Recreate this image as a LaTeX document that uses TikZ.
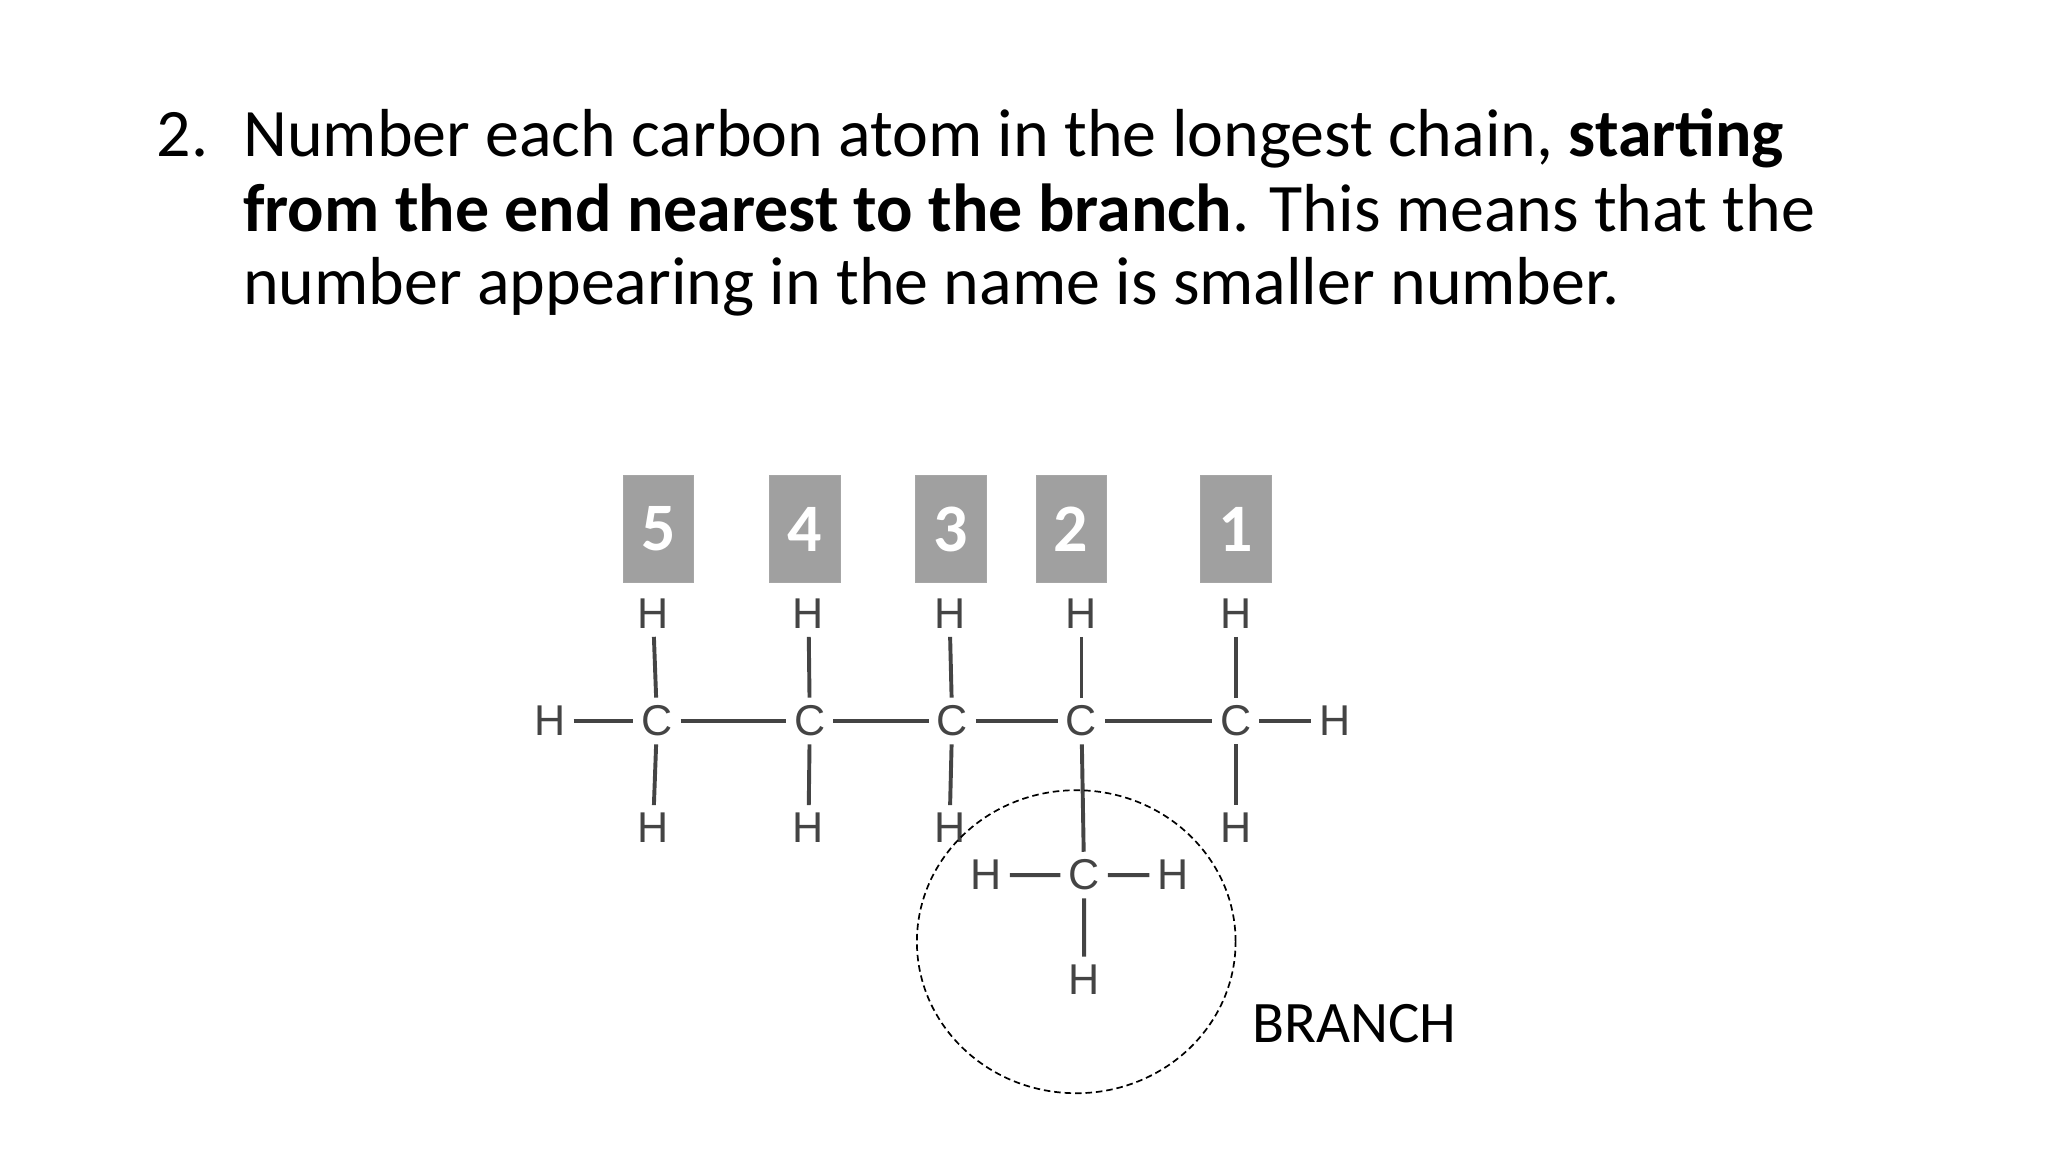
\documentclass[tikz,border=0pt]{standalone}
\usepackage{fontspec}
\usetikzlibrary{shapes.geometric}
\setmainfont{Carlito}
\newfontfamily\molfont{Liberation Sans}
\definecolor{molc}{HTML}{444444}
\definecolor{boxc}{HTML}{A0A0A0}
\begin{document}
\begin{tikzpicture}[x=1pt,y=-1pt,
  atom/.style={font=\molfont\fontsize{33}{33}\selectfont,text=molc,inner sep=6pt},
  bond/.style={draw=molc,line width=3pt},
  numbox/.style={fill=boxc,draw=gray!70,minimum width=54pt,minimum height=82pt,text=white,font=\bfseries\fontsize{52}{52}\selectfont,inner sep=0pt}]
\useasboundingbox (0,0) rectangle (1568,882);
\node[anchor=base west,font=\fontsize{52}{52}\selectfont,inner sep=0pt] (n2) at (120,120) {2.};
\node[anchor=base west,font=\fontsize{52}{52}\selectfont,inner sep=0pt] (l1) at (186,120) {Number each carbon atom in the longest chain, \textbf{starting}};
\node[anchor=base west,font=\fontsize{52}{52}\selectfont,inner sep=0pt] (l2) at (186,177) {\textbf{from the end nearest to the branch}. This means that the};
\node[anchor=base west,font=\fontsize{52}{52}\selectfont,inner sep=0pt] (l3) at (186,233) {number appearing in the name is smaller number.};
\foreach \n/\x in {5/504,4/616,3/728,2/820,1/946}{\node[numbox] (b\n) at (\x,405) {\n};}
% chain
\foreach \i/\x/\bx in {5/503/500,4/620/619,3/729/727,2/828/828,1/946/946}{
  \node[atom] (c\i) at (\x,552) {C};
  \node[atom] (t\i) at (\bx,470) {H};
  \draw[bond] (t\i) -- (c\i);
}
\foreach \i/\bx in {5/500,4/619,3/727,1/946}{
  \node[atom] (d\i) at (\bx,634) {H};
  \draw[bond] (c\i) -- (d\i);
}
\node[atom] (hl) at (421,552) {H};
\node[atom] (hr) at (1022,552) {H};
\draw[bond] (hl)--(c5) (c5)--(c4) (c4)--(c3) (c3)--(c2) (c2)--(c1) (c1)--(hr);
% branch
\node[atom] (cb) at (830,670) {C};
\node[atom] (hbl) at (755,670) {H};
\node[atom] (hbr) at (898,670) {H};
\node[atom] (hbd) at (830,750) {H};
\draw[bond] (c2)--(cb) (hbl)--(cb) (cb)--(hbr) (cb)--(hbd);
\node[draw,dash pattern=on 5pt off 3pt,ellipse,minimum width=244pt,minimum height=232pt,line width=1.3pt] (circ) at (824,721) {};
\node[font=\fontsize{45}{45}\selectfont] (br) at (1037,784) {BRANCH};
\end{tikzpicture}
\end{document}
